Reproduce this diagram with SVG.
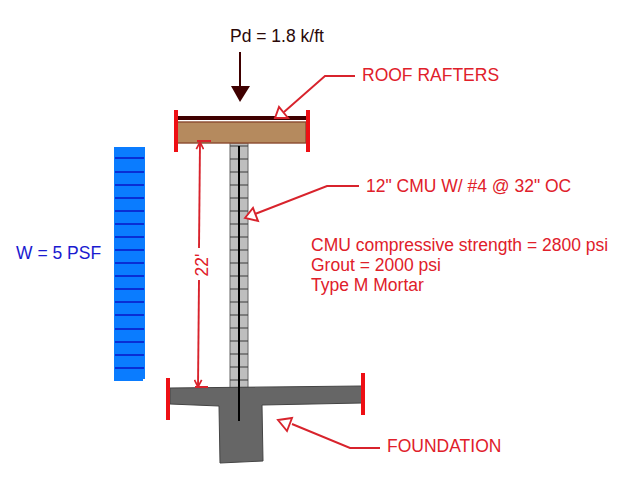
<svg xmlns="http://www.w3.org/2000/svg" width="622" height="492" viewBox="0 0 622 492">
<style>
text{font-family:"Liberation Sans",Arial,sans-serif;font-size:17.5px}
.r{fill:#e0202a}
.l{fill:none;stroke:#d8232c;stroke-width:1.9}
.h{fill:#fff;stroke:#d8232c;stroke-width:1.9}
.b{fill:#ee0f14}
.g{stroke:#3a3a3a;stroke-width:1.2}
.w{stroke:#0a14c8;stroke-width:1.5}
</style>
<defs>
<marker id="op" viewBox="0 0 10 10" refX="9" refY="5" markerWidth="9" markerHeight="9" orient="auto-start-reverse" markerUnits="userSpaceOnUse"><path d="M1 1L9 5L1 9" fill="none" stroke="#d8232c" stroke-width="1.9"/></marker>
</defs>
<rect width="622" height="492" fill="#fff"/>
<g id="wind-load">
<path d="M114 147H145V379H143V381H114Z" fill="#0a7cff"/>
<path class="w" d="M115 158H144M115 172H144M115 185H144M115 198H144M115 211H144M115 224H144M115 237H144M115 250H144M115 263H144M115 276H144M115 289H144M115 302H144M115 315H144M115 329H144M115 342H144M115 355H144M115 368H144"/>
<text x="16" y="259" fill="#1a1ad0">W = 5 PSF</text>
</g>
<g id="cmu-wall">
<rect x="230" y="143" width="18" height="245" fill="#bebebe" stroke="#666"/>
<path class="g" d="M230 146H248M230 159H248M230 172H248M230 185H248M230 198H248M230 211H248M230 224H248M230 237H248M230 250H248M230 263H248M230 276H248M230 289H248M230 302H248M230 315H248M230 328H248M230 341H248M230 354H248M230 367H248M230 380H248"/>
</g>
<g id="foundation">
<path d="M170 388L362 386V403L262 405L263 461L220 463L219 406L170 404Z" fill="#666" stroke="#444"/>
<rect x="166" y="378" width="4" height="42" class="b"/>
<rect x="361" y="373" width="4" height="42" class="b"/>
</g>
<g id="rebar"><path d="M239 146V421" stroke="#000" stroke-width="2" fill="none"/></g>
<g id="roof">
<rect x="177" y="122" width="129" height="21" fill="#b58a5e" stroke="#8a4a30" stroke-width="1.4"/>
<rect x="177" y="116" width="129" height="4" fill="#3f0000"/>
<rect x="174" y="110" width="4" height="42" class="b"/>
<rect x="306" y="110" width="4" height="42" class="b"/>
</g>
<g id="load">
<path d="M240 52V87" stroke="#3f0000" stroke-width="2" fill="none"/>
<path d="M231 86H250L240 102Z" fill="#3f0000"/>
<text x="230" y="42" fill="#2a0808">Pd = 1.8 k/ft</text>
</g>
<g id="connectors">
<path class="l" d="M355 76H325L284 112"/>
<path class="h" d="M275 118L279 107L288 118Z"/>
<path class="l" d="M359 186H327L255 214"/>
<path class="h" d="M245 218L253 208L258 221Z"/>
<path class="l" d="M380 448H350L292 424"/>
<path class="h" d="M278 420L292 418L287 431Z"/>
<path class="l" d="M199 248L200 142" marker-end="url(#op)"/>
<path class="l" d="M199 280L198 387" marker-end="url(#op)"/>
<path class="l" d="M195 387H208M197 141H211"/>
</g>
<g id="labels">
<text x="362" y="81" class="r">ROOF RAFTERS</text>
<text x="366" y="192" class="r">12" CMU W/ #4 @ 32" OC</text>
<text x="311" y="251" class="r">CMU compressive strength = 2800 psi</text>
<text x="311" y="271" class="r">Grout = 2000 psi</text>
<text x="311" y="291" class="r">Type M Mortar</text>
<text x="387" y="452" class="r">FOUNDATION</text>
<text transform="translate(207.5 265) rotate(-90)" text-anchor="middle" class="r">22'</text>
</g>
</svg>
